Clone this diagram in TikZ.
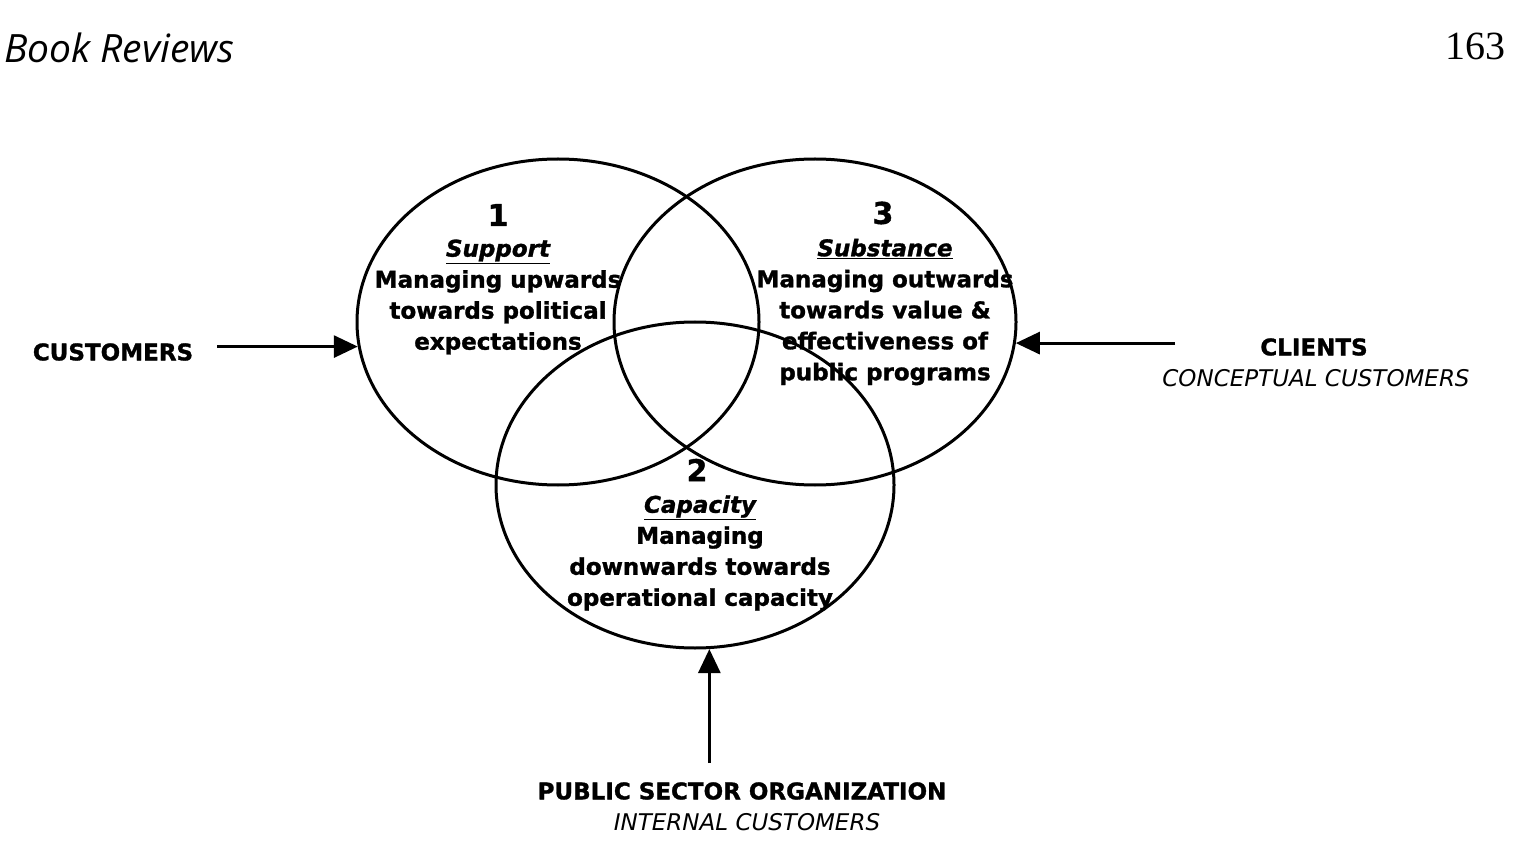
\documentclass[tikz,border=0pt]{standalone}
\usepackage{fontspec}
\setmainfont{DejaVu Sans}[BoldFeatures={FakeBold=1.3},BoldItalicFeatures={FakeBold=1.3}]
\newfontfamily\bookfont{Open Sans}
\newfontfamily\pagefont{Liberation Serif}
\usetikzlibrary{shapes.geometric,arrows.meta}
\begin{document}
\begin{tikzpicture}[x=1pt,y=-1pt,
  venn/.style={draw, ellipse, line width=3pt, minimum width=402pt, minimum height=326pt, inner sep=0pt},
  num/.style={font=\bfseries\fontsize{30}{32}\selectfont, inner sep=0pt},
  body/.style={font=\bfseries\fontsize{23}{31}\selectfont, align=center, inner sep=0pt},
  lbl/.style={font=\bfseries\fontsize{23}{31}\selectfont, inner sep=0pt},
  ilbl/.style={font=\itshape\fontsize{23}{31}\selectfont, inner sep=0pt},
  arr/.style={line width=3pt, -{Triangle[length=24pt,width=22pt]}},
]
\useasboundingbox[fill=white] (0,0) rectangle (1517,858);

% header
\node[font=\bookfont\itshape\fontsize{39}{42}\selectfont, anchor=west, inner sep=0pt] (head) at (4,48) {Book Reviews};
\node[font=\pagefont\fontsize{40}{44}\selectfont, anchor=east, inner sep=0pt] (page) at (1506,46) {163};

% circles
\node[venn] (c1) at (558,322) {};
\node[venn] (c3) at (815,322) {};
\node[venn, minimum width=398pt] (c2) at (695,485) {};

% circle texts
\node[num] (n1) at (498,215) {1};
\node[body] (t1) at (498,297) {\underline{\itshape Support}\\Managing upwards\\towards political\\expectations};
\node[num] (n3) at (883,213) {3};
\node[body] (t3) at (885,312) {\underline{\itshape Substance}\\Managing outwards\\towards value \&\\effectiveness of\\public programs};
\node[num] (n2) at (697,470) {2};
\node[body] (t2) at (700,553) {\underline{\itshape Capacity}\\Managing\\downwards towards\\operational capacity};

% outside labels
\node[lbl] (cust) at (113,352) {CUSTOMERS};
\node[lbl] (clients) at (1314,347) {CLIENTS};
\node[ilbl] (concept) at (1316,378) {CONCEPTUAL CUSTOMERS};
\node[lbl] (pso) at (742,791) {PUBLIC SECTOR ORGANIZATION};
\node[ilbl] (internal) at (747,822) {INTERNAL CUSTOMERS};

% arrow tails
\coordinate (custtail) at (217,347);
\coordinate (clitail) at (1175,343);
\coordinate (psotail) at (708,763);

% connectors
\draw[arr] (custtail |- c1.187) -- (c1.187);
\draw[arr] (clitail |- c3.354) -- (c3.354);
\draw[arr] (c2.275 |- psotail) -- (c2.275);
\end{tikzpicture}
\end{document}
